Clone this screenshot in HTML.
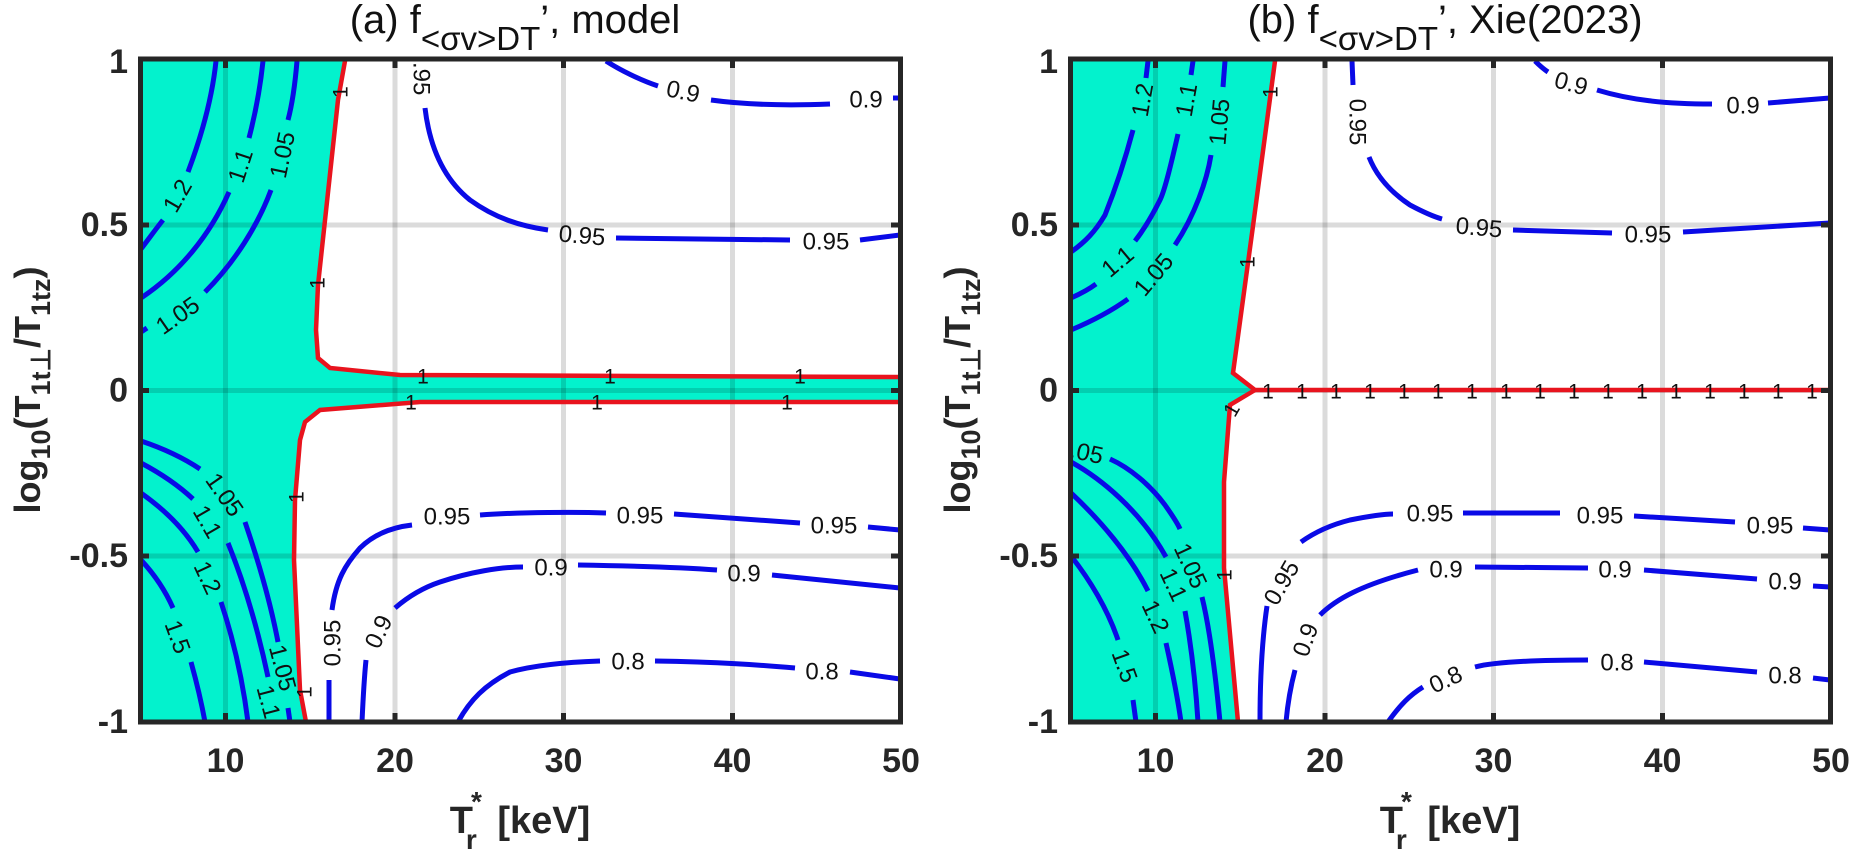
<!DOCTYPE html>
<html><head><meta charset="utf-8"><style>
html,body{margin:0;padding:0;background:#fff}
svg{display:block}
text{font-family:"Liberation Sans",Arial,sans-serif}
.cl{font-size:24px;fill:#111;text-anchor:middle;dominant-baseline:central}
.r1{font-size:21px;fill:#111;text-anchor:middle;dominant-baseline:central}
.b{fill:none;stroke:#0a0ae6;stroke-width:5;stroke-linecap:butt}
.rd{fill:none;stroke:#e8141e;stroke-width:4.5}
.g{stroke:#000;stroke-opacity:0.14;stroke-width:5}
.tk{font-size:34px;font-weight:bold;fill:#262626}
.ax{fill:none;stroke:#262626;stroke-width:5}
.t{stroke:#262626;stroke-width:5}
</style></head><body>
<svg width="1851" height="856" viewBox="0 0 1851 856" xmlns="http://www.w3.org/2000/svg">
<defs>
<clipPath id="ca"><rect x="141" y="61" width="759" height="661"/></clipPath>
<clipPath id="cb"><rect x="1071" y="61" width="759" height="661"/></clipPath>
</defs>

<!-- ================= PANEL A ================= -->
<g clip-path="url(#ca)">
<path fill="#03f2cd" d="M141,61 L345,61 L338,100 L318,285 L316,330 L318,358 L330,368 L400,375 L900,377 L900,402 L420,402 L320,410 L305,422 L300,440 L295,500 L294,560 L300,690 L306,722 L141,722 Z"/>
<g class="g">
<line x1="225.5" y1="61" x2="225.5" y2="722"/><line x1="395" y1="61" x2="395" y2="722"/>
<line x1="563.5" y1="61" x2="563.5" y2="722"/><line x1="732.5" y1="61" x2="732.5" y2="722"/>
<line x1="141" y1="225" x2="900" y2="225"/><line x1="141" y1="390.5" x2="900" y2="390.5"/><line x1="141" y1="556" x2="900" y2="556"/>
</g>
<g class="b">
<path d="M216,61 C212,100 200,140 188,172"/><path d="M163,220 C155,230 148,240 141,249"/>
<path d="M263,61 C260,90 255,115 249,138"/><path d="M229,192 C210,235 180,272 141,298"/>
<path d="M297,61 C295,85 292,105 288,120"/><path d="M271,190 C258,225 235,262 205,292"/><path d="M147,328 L141,332"/>
<path d="M141,441 C165,449 185,459 200,469"/><path d="M245,522 C258,560 270,600 278,642"/><path d="M288,708 L290,722"/>
<path d="M141,463 C160,473 178,485 193,499"/><path d="M228,543 C245,585 258,630 268,677"/>
<path d="M141,493 C165,510 185,530 198,552"/><path d="M221,602 C232,635 242,675 248,722"/>
<path d="M141,560 C155,575 165,590 173,608"/><path d="M191,662 C196,680 201,700 205,722"/>
<path d="M425,108 C430,150 445,180 470,200 C495,218 520,226 548,230"/><path d="M616,238 L790,240"/><path d="M860,240 L900,235"/>
<path d="M606,61 C620,70 640,80 658,86"/><path d="M711,100 C740,104 780,106 830,104"/><path d="M893,98 L900,98"/>
<path d="M329,722 L329,680"/><path d="M332,610 C336,580 345,565 360,548 C375,533 395,527 412,525"/><path d="M480,515 C520,512 580,512 606,513"/><path d="M674,514 L800,523"/><path d="M868,527 L900,530"/>
<path d="M362,722 C363,700 364,680 366,660"/><path d="M395,608 C410,595 425,587 440,582 C470,572 500,567 523,567"/><path d="M578,565 C640,566 690,568 717,570"/><path d="M772,575 L900,588"/>
<path d="M458,722 C470,700 485,685 510,672 C535,665 570,662 600,661"/><path d="M655,661 C720,662 760,665 795,668"/><path d="M850,672 L900,679"/>
</g>
<path class="rd" d="M345,61 L338,100 L318,285 L316,330 L318,358 L330,368 L400,375 L900,377"/>
<path class="rd" d="M900,402 L420,402 L320,410 L305,422 L300,440 L295,500 L294,560 L300,690 L306,722"/>
<g>
<text class="cl" transform="translate(178,196) rotate(-60)">1.2</text>
<text class="cl" transform="translate(241,166) rotate(-72)">1.1</text>
<text class="cl" transform="translate(283,155) rotate(-78)">1.05</text>
<text class="cl" transform="translate(178,316) rotate(-35)">1.05</text>
<text class="cl" transform="translate(224,495) rotate(55)">1.05</text>
<text class="cl" transform="translate(282,668) rotate(75)">1.05</text>
<text class="cl" transform="translate(207,522) rotate(60)">1.1</text>
<text class="cl" transform="translate(268,702) rotate(75)">1.1</text>
<text class="cl" transform="translate(207,578) rotate(65)">1.2</text>
<text class="cl" transform="translate(177,637) rotate(70)">1.5</text>
<text class="cl" transform="translate(421,72) rotate(90)">0.95</text>
<text class="cl" transform="translate(582,236) rotate(5)">0.95</text>
<text class="cl" transform="translate(826,242)">0.95</text>
<text class="cl" transform="translate(683,92) rotate(12)">0.9</text>
<text class="cl" transform="translate(866,100)">0.9</text>
<text class="cl" transform="translate(333,643) rotate(-90)">0.95</text>
<text class="cl" transform="translate(447,517)">0.95</text>
<text class="cl" transform="translate(640,516)">0.95</text>
<text class="cl" transform="translate(834,526)">0.95</text>
<text class="cl" transform="translate(379,632) rotate(-65)">0.9</text>
<text class="cl" transform="translate(551,568)">0.9</text>
<text class="cl" transform="translate(744,574)">0.9</text>
<text class="cl" transform="translate(628,662)">0.8</text>
<text class="cl" transform="translate(822,672)">0.8</text>
<text class="r1" transform="translate(341,92) rotate(-90)">1</text>
<text class="r1" transform="translate(318,283) rotate(-90)">1</text>
<text class="r1" x="423" y="377">1</text><text class="r1" x="610" y="377">1</text><text class="r1" x="800" y="377">1</text>
<text class="r1" x="411" y="403">1</text><text class="r1" x="597" y="403">1</text><text class="r1" x="787" y="403">1</text>
<text class="r1" transform="translate(297,497) rotate(-90)">1</text>
<text class="r1" transform="translate(305,692) rotate(-90)">1</text>
</g>
</g>
<rect class="ax" x="140.5" y="59" width="760" height="663"/>
<g class="t">
<line x1="225.5" y1="722" x2="225.5" y2="713"/><line x1="395" y1="722" x2="395" y2="713"/><line x1="563.5" y1="722" x2="563.5" y2="713"/><line x1="732.5" y1="722" x2="732.5" y2="713"/>
<line x1="225.5" y1="59" x2="225.5" y2="68"/><line x1="395" y1="59" x2="395" y2="68"/><line x1="563.5" y1="59" x2="563.5" y2="68"/><line x1="732.5" y1="59" x2="732.5" y2="68"/>
<line x1="140" y1="225" x2="149" y2="225"/><line x1="140" y1="390.5" x2="149" y2="390.5"/><line x1="140" y1="556" x2="149" y2="556"/>
<line x1="900" y1="225" x2="891" y2="225"/><line x1="900" y1="390.5" x2="891" y2="390.5"/><line x1="900" y1="556" x2="891" y2="556"/>
</g>
<g class="tk" text-anchor="middle">
<text x="225.5" y="772">10</text><text x="395" y="772">20</text><text x="563.5" y="772">30</text><text x="732.5" y="772">40</text><text x="901" y="772">50</text>
</g>
<g class="tk" text-anchor="end" dominant-baseline="central">
<text x="128" y="62">1</text><text x="128" y="225">0.5</text><text x="128" y="390.5">0</text><text x="128" y="556">-0.5</text><text x="128" y="722">-1</text>
</g>
<text x="520" y="833" text-anchor="middle" font-size="38" font-weight="bold" fill="#262626">T<tspan font-size="28" dy="-22" dx="-2">*</tspan><tspan font-size="28" dy="38" dx="-16">r</tspan><tspan dy="-16" dx="10"> [keV]</tspan></text>
<text transform="translate(40,390) rotate(-90)" text-anchor="middle" font-size="36" font-weight="bold" fill="#262626">log<tspan font-size="27" dy="10">10</tspan><tspan dy="-10">(T</tspan><tspan font-size="27" dy="10">1t⊥</tspan><tspan dy="-10">/T</tspan><tspan font-size="27" dy="10">1tz</tspan><tspan dy="-10">)</tspan></text>
<text x="515" y="33" text-anchor="middle" font-size="40" fill="#111">(a) f<tspan font-size="33" dy="17">&lt;σv&gt;DT</tspan><tspan dy="-17">’, model</tspan></text>

<!-- ================= PANEL B ================= -->
<g clip-path="url(#cb)">
<path fill="#03f2cd" d="M1071,61 L1275,61 L1253,226 L1233,373 L1255,390 L1230,405 L1224,482 L1224,568 L1238,722 L1071,722 Z"/>
<g class="g">
<line x1="1155.5" y1="61" x2="1155.5" y2="722"/><line x1="1325" y1="61" x2="1325" y2="722"/>
<line x1="1493.5" y1="61" x2="1493.5" y2="722"/><line x1="1662.5" y1="61" x2="1662.5" y2="722"/>
<line x1="1071" y1="225" x2="1830" y2="225"/><line x1="1071" y1="390.5" x2="1830" y2="390.5"/><line x1="1071" y1="556" x2="1830" y2="556"/>
</g>
<g class="b">
<path d="M1148,61 L1146,78"/><path d="M1133,130 C1125,160 1115,190 1105,215 C1095,232 1085,242 1071,252"/>
<path d="M1193,61 L1191,75"/><path d="M1178,134 C1172,160 1165,190 1160,200 C1150,220 1142,232 1135,241"/><path d="M1096,284 C1088,290 1080,294 1071,298"/>
<path d="M1225,61 L1223,87"/><path d="M1211,155 C1207,180 1195,215 1175,245"/><path d="M1128,299 C1110,312 1090,322 1071,330"/>
<path d="M1110,459 C1130,468 1150,485 1165,505 C1172,515 1177,522 1180,529"/><path d="M1202,597 C1210,630 1216,680 1220,722"/>
<path d="M1071,462 C1100,478 1140,510 1166,557"/><path d="M1185,611 C1192,650 1196,690 1198,722"/>
<path d="M1071,493 C1100,520 1130,555 1148,591"/><path d="M1166,643 C1172,670 1178,700 1181,722"/>
<path d="M1071,556 C1090,580 1108,610 1118,640"/><path d="M1133,700 L1136,722"/>
<path d="M1260,722 C1260,680 1262,640 1267,606"/><path d="M1301,542 C1315,532 1330,525 1350,520 C1370,516 1385,514 1393,514"/><path d="M1463,513 L1560,513"/><path d="M1634,516 L1735,522"/><path d="M1803,528 L1830,530"/>
<path d="M1286,722 C1288,700 1291,685 1295,670"/><path d="M1320,615 C1335,600 1360,585 1418,570"/><path d="M1475,567 L1588,568"/><path d="M1644,570 L1757,579"/><path d="M1813,586 L1830,587"/>
<path d="M1388,722 C1400,705 1410,695 1423,687"/><path d="M1475,667 C1490,663 1520,660 1588,660"/><path d="M1644,662 L1757,672"/><path d="M1813,678 L1830,680"/>
<path d="M1352,61 L1353,85"/><path d="M1369,157 C1378,180 1395,195 1410,205 C1425,213 1435,217 1442,219"/><path d="M1513,230 L1612,233"/><path d="M1683,232 L1830,223"/>
<path d="M1535,61 C1540,66 1545,70 1548,72"/><path d="M1597,90 C1630,100 1665,104 1712,104"/><path d="M1768,103 L1830,98"/>
</g>
<path class="rd" d="M1275,61 L1253,226 L1233,373 L1255,390 L1830,390"/>
<path class="rd" d="M1255,390 L1230,405 L1224,482 L1224,568 L1238,722"/>
<g>
<text class="cl" transform="translate(1143,100) rotate(-80)">1.2</text>
<text class="cl" transform="translate(1187,100) rotate(-80)">1.1</text>
<text class="cl" transform="translate(1220,122) rotate(-85)">1.05</text>
<text class="cl" transform="translate(1118,262) rotate(-40)">1.1</text>
<text class="cl" transform="translate(1154,275) rotate(-50)">1.05</text>
<text class="cl" transform="translate(1080,452) rotate(12)">1.05</text>
<text class="cl" transform="translate(1190,566) rotate(65)">1.05</text>
<text class="cl" transform="translate(1173,585) rotate(65)">1.1</text>
<text class="cl" transform="translate(1155,617) rotate(65)">1.2</text>
<text class="cl" transform="translate(1124,666) rotate(70)">1.5</text>
<text class="cl" transform="translate(1282,583) rotate(-60)">0.95</text>
<text class="cl" transform="translate(1430,514)">0.95</text>
<text class="cl" transform="translate(1600,516)">0.95</text>
<text class="cl" transform="translate(1770,526)">0.95</text>
<text class="cl" transform="translate(1306,640) rotate(-70)">0.9</text>
<text class="cl" transform="translate(1446,570)">0.9</text>
<text class="cl" transform="translate(1615,570)">0.9</text>
<text class="cl" transform="translate(1785,582)">0.9</text>
<text class="cl" transform="translate(1446,680) rotate(-25)">0.8</text>
<text class="cl" transform="translate(1617,663)">0.8</text>
<text class="cl" transform="translate(1785,676)">0.8</text>
<text class="cl" transform="translate(1357,122) rotate(90)">0.95</text>
<text class="cl" transform="translate(1479,228) rotate(5)">0.95</text>
<text class="cl" transform="translate(1648,235)">0.95</text>
<text class="cl" transform="translate(1571,84) rotate(15)">0.9</text>
<text class="cl" transform="translate(1743,106)">0.9</text>
<text class="r1" transform="translate(1271,92) rotate(-90)">1</text>
<text class="r1" transform="translate(1248,262) rotate(-90)">1</text>
<text class="r1" transform="translate(1232,410) rotate(-60)">1</text>
<text class="r1" transform="translate(1225,575) rotate(-90)">1</text>
<text class="r1" x="1268" y="392">1</text><text class="r1" x="1302" y="392">1</text><text class="r1" x="1336" y="392">1</text><text class="r1" x="1370" y="392">1</text>
<text class="r1" x="1404" y="392">1</text><text class="r1" x="1438" y="392">1</text><text class="r1" x="1472" y="392">1</text><text class="r1" x="1506" y="392">1</text>
<text class="r1" x="1540" y="392">1</text><text class="r1" x="1574" y="392">1</text><text class="r1" x="1608" y="392">1</text><text class="r1" x="1642" y="392">1</text>
<text class="r1" x="1676" y="392">1</text><text class="r1" x="1710" y="392">1</text><text class="r1" x="1744" y="392">1</text><text class="r1" x="1778" y="392">1</text><text class="r1" x="1812" y="392">1</text>
</g>
</g>
<rect class="ax" x="1070.5" y="59" width="760" height="663"/>
<g class="t">
<line x1="1155.5" y1="722" x2="1155.5" y2="713"/><line x1="1325" y1="722" x2="1325" y2="713"/><line x1="1493.5" y1="722" x2="1493.5" y2="713"/><line x1="1662.5" y1="722" x2="1662.5" y2="713"/>
<line x1="1155.5" y1="59" x2="1155.5" y2="68"/><line x1="1325" y1="59" x2="1325" y2="68"/><line x1="1493.5" y1="59" x2="1493.5" y2="68"/><line x1="1662.5" y1="59" x2="1662.5" y2="68"/>
<line x1="1070" y1="225" x2="1079" y2="225"/><line x1="1070" y1="390.5" x2="1079" y2="390.5"/><line x1="1070" y1="556" x2="1079" y2="556"/>
<line x1="1830" y1="225" x2="1821" y2="225"/><line x1="1830" y1="390.5" x2="1821" y2="390.5"/><line x1="1830" y1="556" x2="1821" y2="556"/>
</g>
<g class="tk" text-anchor="middle">
<text x="1155.5" y="772">10</text><text x="1325" y="772">20</text><text x="1493.5" y="772">30</text><text x="1662.5" y="772">40</text><text x="1831" y="772">50</text>
</g>
<g class="tk" text-anchor="end" dominant-baseline="central">
<text x="1058" y="62">1</text><text x="1058" y="225">0.5</text><text x="1058" y="390.5">0</text><text x="1058" y="556">-0.5</text><text x="1058" y="722">-1</text>
</g>
<text x="1450" y="833" text-anchor="middle" font-size="38" font-weight="bold" fill="#262626">T<tspan font-size="28" dy="-22" dx="-2">*</tspan><tspan font-size="28" dy="38" dx="-16">r</tspan><tspan dy="-16" dx="10"> [keV]</tspan></text>
<text transform="translate(970,390) rotate(-90)" text-anchor="middle" font-size="36" font-weight="bold" fill="#262626">log<tspan font-size="27" dy="10">10</tspan><tspan dy="-10">(T</tspan><tspan font-size="27" dy="10">1t⊥</tspan><tspan dy="-10">/T</tspan><tspan font-size="27" dy="10">1tz</tspan><tspan dy="-10">)</tspan></text>
<text x="1445" y="33" text-anchor="middle" font-size="40" fill="#111">(b) f<tspan font-size="33" dy="17">&lt;σv&gt;DT</tspan><tspan dy="-17">’, Xie(2023)</tspan></text>
</svg>
</body></html>
